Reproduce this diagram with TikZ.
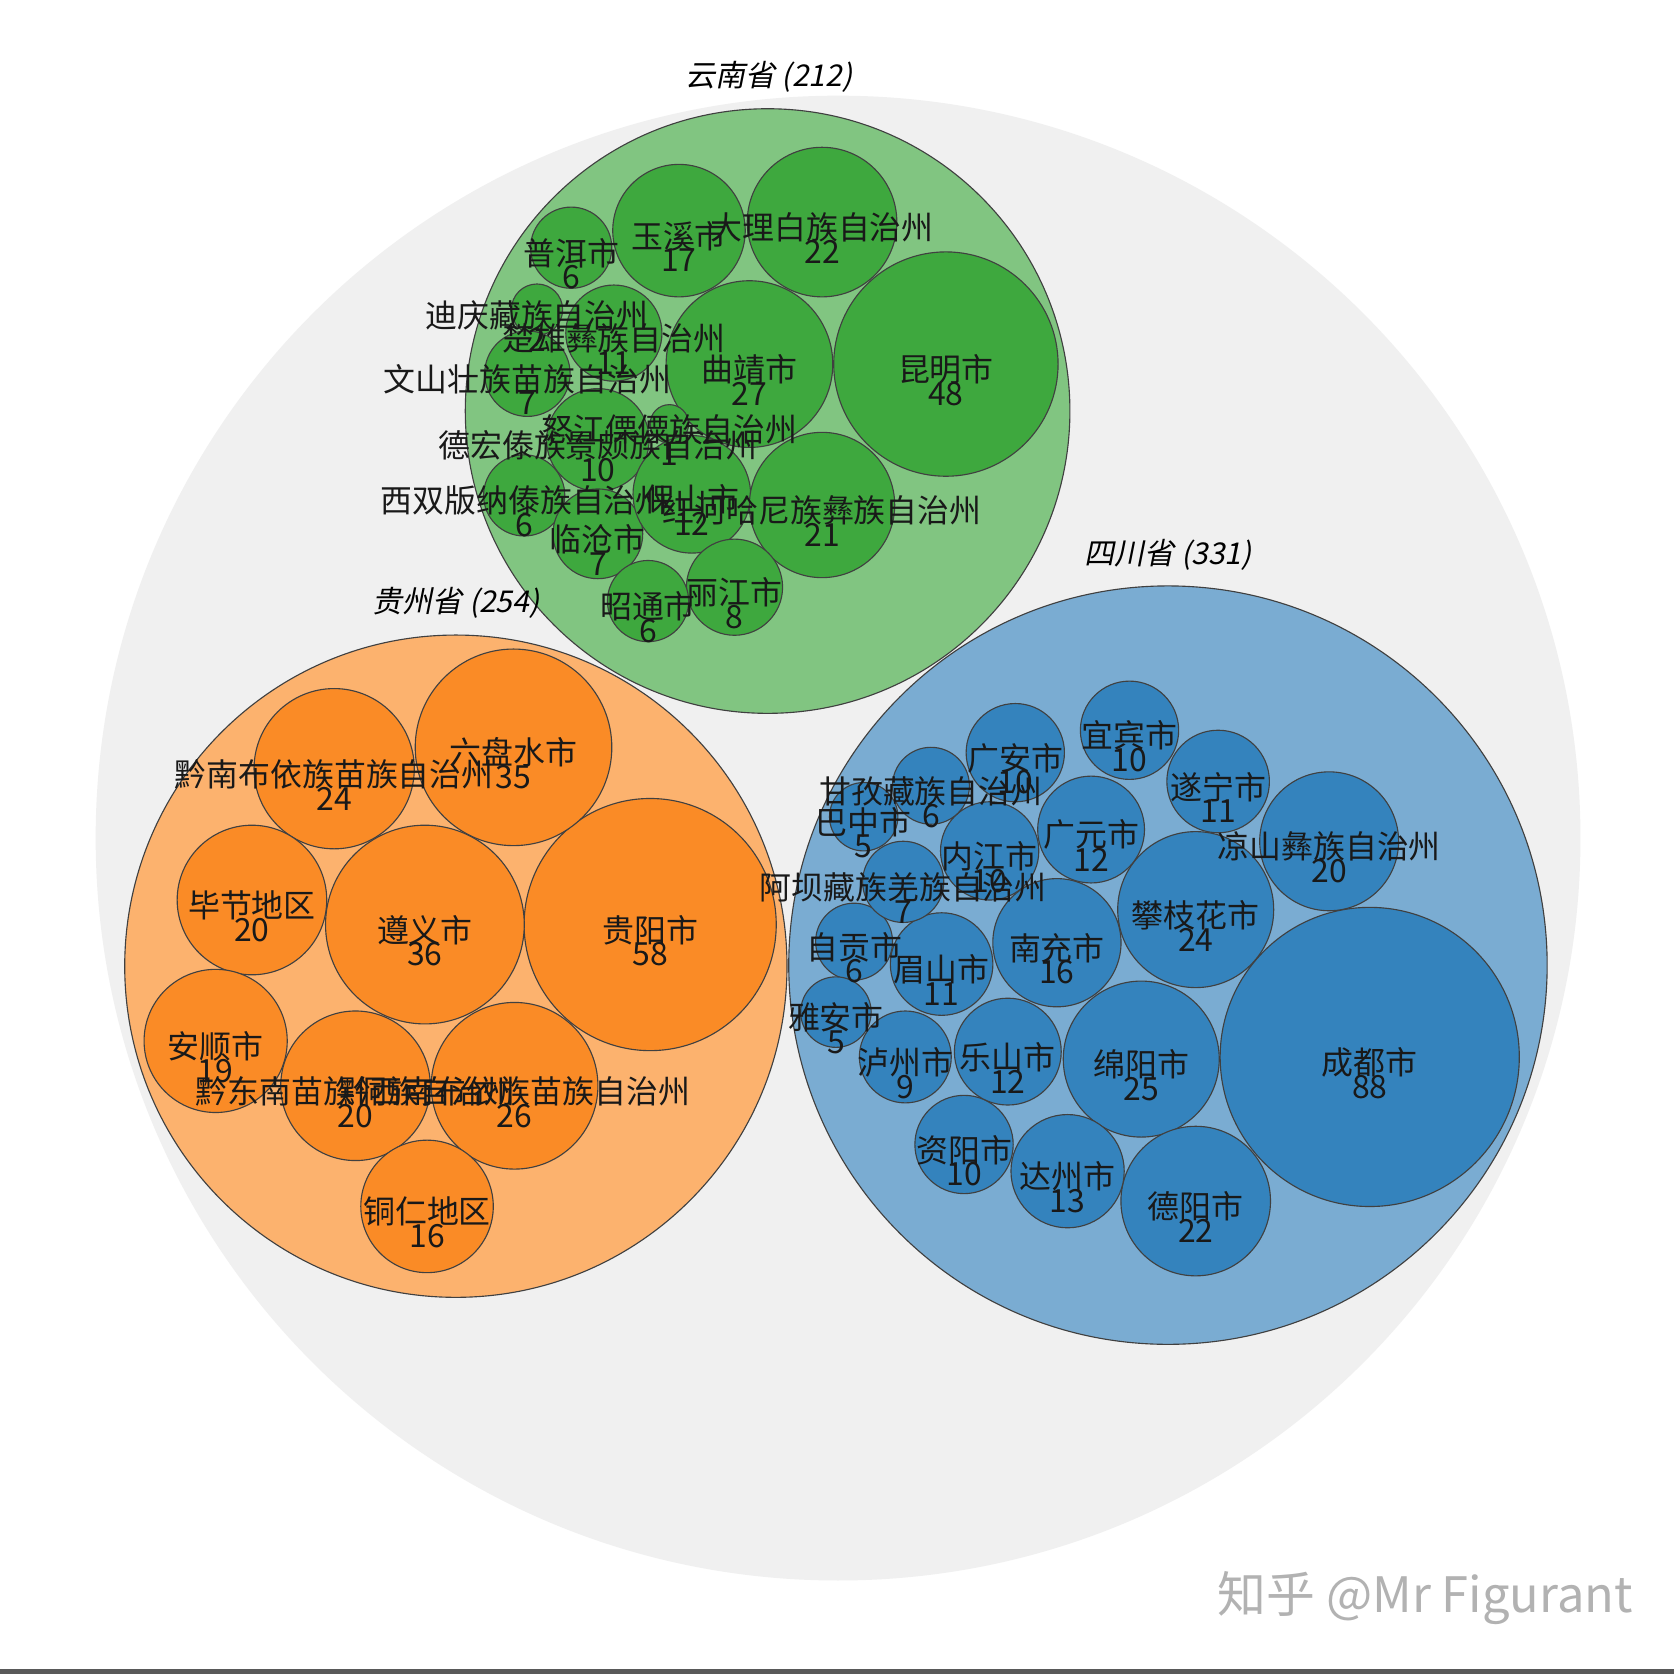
\documentclass[tikz,border=0pt]{standalone}
\usepackage{fontspec}
\setmainfont{Noto Sans CJK SC}
\newfontfamily\cjkit{Noto Sans CJK SC}[FakeSlant=0.2]
\newfontfamily\wmfont{Noto Sans CJK SC}
\definecolor{gbg}{RGB}{240,240,240}
\definecolor{yo}{RGB}{129,197,129}
\definecolor{yi}{RGB}{62,168,62}
\definecolor{go}{RGB}{252,178,110}
\definecolor{gi}{RGB}{250,139,38}
\definecolor{so}{RGB}{122,172,210}
\definecolor{si}{RGB}{52,131,189}
\tikzset{
 bub/.style={circle,draw=black!75,line width=0.3pt,inner sep=0pt},
 lab/.style={font=\fontsize{8.5}{9}\selectfont,inner sep=0pt,text=black!90},
 prov/.style={font=\cjkit\fontsize{8}{9}\selectfont,inner sep=0pt}
}
\newcommand{\ccircle}[7]{%
 \node[bub,fill=#5,minimum size=#4*0.02cm] (#1) at (#2,#3) {};}
\newcommand{\clabel}[7]{%
 \node[lab] (#1n) at (#2,#3+5) {#6};
 \node[lab] (#1v) at (#2,#3+28) {#7};}
\newcommand{\bubbledata}{%
\cc{km}{886}{341}{105}{yi}{昆明市}{48}
\cc{dl}{770}{208}{70}{yi}{大理白族自治州}{22}
\cc{yx}{636}{216}{62}{yi}{玉溪市}{17}
\cc{pe}{535}{232}{38}{yi}{普洱市}{6}
\cc{qj}{702}{341}{78}{yi}{曲靖市}{27}
\cc{cx}{575}{312}{45}{yi}{楚雄彝族自治州}{11}
\cc{dq}{503}{290}{24}{yi}{迪庆藏族自治州}{2}
\cc{ws}{494}{350}{40}{yi}{文山壮族苗族自治州}{7}
\cc{nj}{627}{397}{18}{yi}{怒江傈僳族自治州}{1}
\cc{dh}{560}{412}{48}{yi}{德宏傣族景颇族自治州}{10}
\cc{xs}{491}{464}{38}{yi}{西双版纳傣族自治州}{6}
\cc{lc}{560}{500}{42}{yi}{临沧市}{7}
\cc{bs}{648}{463}{55}{yi}{保山市}{12}
\cc{hh}{770}{473}{68}{yi}{红河哈尼族彝族自治州}{21}
\cc{lj}{688}{550}{45}{yi}{丽江市}{8}
\cc{zt}{607}{563}{38}{yi}{昭通市}{6}
\cc{gy}{609}{866}{118}{gi}{贵阳市}{58}
\cc{lps}{481}{700}{92}{gi}{六盘水市}{35}
\cc{zy}{398}{866}{93}{gi}{遵义市}{36}
\cc{qn}{313}{720}{75}{gi}{黔南布依族苗族自治州}{24}
\cc{bj}{236}{843}{70}{gi}{毕节地区}{20}
\cc{as}{202}{975}{67}{gi}{安顺市}{19}
\cc{qdn}{333}{1017}{70}{gi}{黔东南苗族侗族自治州}{20}
\cc{qxn}{482}{1017}{78}{gi}{黔西南布依族苗族自治州}{26}
\cc{tr}{400}{1130}{62}{gi}{铜仁地区}{16}
\cc{cd}{1283}{990}{140}{si}{成都市}{88}
\cc{ls}{1245}{788}{65}{si}{凉山彝族自治州}{20}
\cc{pzh}{1120}{852}{73}{si}{攀枝花市}{24}
\cc{my}{1069}{992}{73}{si}{绵阳市}{25}
\cc{dy}{1120}{1125}{70}{si}{德阳市}{22}
\cc{dz}{1000}{1097}{53}{si}{达州市}{13}
\cc{zyg}{903}{1072}{46}{si}{资阳市}{10}
\cc{lsh}{944}{985}{50}{si}{乐山市}{12}
\cc{lz}{848}{990}{43}{si}{泸州市}{9}
\cc{ms}{882}{903}{48}{si}{眉山市}{11}
\cc{nc}{990}{883}{60}{si}{南充市}{16}
\cc{zg}{800}{882}{36}{si}{自贡市}{6}
\cc{ya}{783}{948}{33}{si}{雅安市}{5}
\cc{ab}{846}{826}{38}{si}{阿坝藏族羌族自治州}{7}
\cc{nj2}{927}{797}{46}{si}{内江市}{10}
\cc{gyu}{1022}{777}{50}{si}{广元市}{12}
\cc{ga}{951}{705}{46}{si}{广安市}{10}
\cc{yb}{1058}{684}{46}{si}{宜宾市}{10}
\cc{sn}{1141}{732}{48}{si}{遂宁市}{11}
\cc{gzz}{872}{736}{36}{si}{甘孜藏族自治州}{6}
\cc{bz}{809}{765}{32}{si}{巴中市}{5}
}
\begin{document}
\begin{tikzpicture}[x=0.01cm,y=-0.01cm]
\useasboundingbox (0,0) rectangle (1568,1568);
\fill[white] (0,0) rectangle (1568,1568);
\node[circle,fill=gbg,minimum size=13.9cm,inner sep=0pt] (all) at (785,785) {};
\node[bub,fill=yo,minimum size=5.66cm] (yn) at (719,385) {};
\node[bub,fill=go,minimum size=6.2cm] (gz) at (427,905) {};
\node[bub,fill=so,minimum size=7.1cm] (sc) at (1094,904) {};
\node[prov] (ynt) at (720,72) {云南省 (212)};
\node[prov] (sct) at (1094,520) {四川省 (331)};
\node[prov] (gzt) at (427,565) {贵州省 (254)};
\let\cc\ccircle \bubbledata
\let\cc\clabel \bubbledata
\node[font=\wmfont\fontsize{13}{14}\selectfont,text=black!30,anchor=east,inner sep=0pt] (wm) at (1530,1497) {知乎 @Mr Figurant};
\fill[black!65] (0,1563) rectangle (1568,1568);
\end{tikzpicture}
\end{document}
